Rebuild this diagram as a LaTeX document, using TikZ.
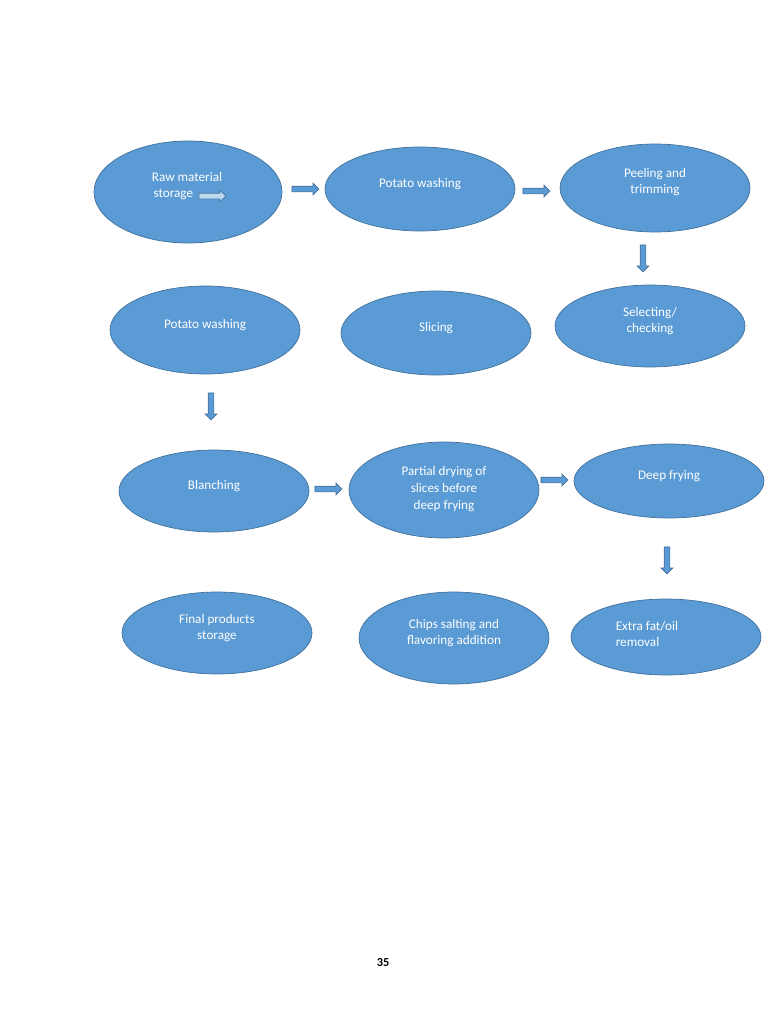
\documentclass[tikz,border=0pt]{standalone}
\usepackage{fontspec}
\setmainfont{Carlito}
\usetikzlibrary{shapes.arrows,shapes.geometric}
\definecolor{stagefill}{HTML}{5B9BD5}
\definecolor{stageline}{HTML}{41719C}
\begin{document}
\begin{tikzpicture}[x=0.02cm, y=-0.02cm,
  stage/.style={ellipse, draw=stageline, fill=stagefill, inner sep=0pt},
  lbl/.style={text=white, font=\fontsize{7.5}{9.5}\selectfont, align=center},
  blk/.style={single arrow, draw=stageline, fill=stagefill, minimum height=0.54cm, single arrow head extend=0.06cm, inner sep=0.05cm}]
  \useasboundingbox (0,0) rectangle (768,1024);
  \fill[white] (0,0) rectangle (768,1024);
  % process steps
  \node[stage, minimum width=3.76cm, minimum height=2.04cm] (raw) at (188,192) {};
  \node[stage, minimum width=3.8cm, minimum height=1.68cm] (wash) at (420,189) {};
  \node[stage, minimum width=3.8cm, minimum height=1.76cm] (peel) at (655,188) {};
  \node[stage, minimum width=3.8cm, minimum height=1.76cm] (washb) at (205,330) {};
  \node[stage, minimum width=3.8cm, minimum height=1.68cm] (slice) at (436,333) {};
  \node[stage, minimum width=3.8cm, minimum height=1.64cm] (select) at (650,326) {};
  \node[stage, minimum width=3.8cm, minimum height=1.64cm] (blanch) at (214,491) {};
  \node[stage, minimum width=3.8cm, minimum height=1.92cm] (dry) at (444,490) {};
  \node[stage, minimum width=3.8cm, minimum height=1.48cm] (fry) at (669,481) {};
  \node[stage, minimum width=3.8cm, minimum height=1.64cm] (final) at (217,633) {};
  \node[stage, minimum width=3.8cm, minimum height=1.84cm] (salt) at (454,638) {};
  \node[stage, minimum width=3.8cm, minimum height=1.52cm] (fat) at (666,637) {};
  % labels
  \node[lbl] (rawt) at (187,186) {Raw material\\storage\phantom{XXXX}};
  \node[lbl] (washt) at (420,184) {Potato washing};
  \node[lbl] (peelt) at (655,182) {Peeling and\\trimming};
  \node[lbl] (washbt) at (205,325) {Potato washing};
  \node[lbl] (slicet) at (436,328) {Slicing};
  \node[lbl] (selectt) at (650,321) {Selecting/\\checking};
  \node[lbl] (blancht) at (214,486) {Blanching};
  \node[lbl] (dryt) at (444,489) {Partial drying of\\slices before\\deep frying};
  \node[lbl] (fryt) at (669,476) {Deep frying};
  \node[lbl] (finalt) at (217,628) {Final products\\storage};
  \node[lbl] (saltt) at (454,633) {Chips salting and\\flavoring addition};
  \node[lbl, align=left] (fatt) at (647,634) {Extra fat/oil\\removal};
  % block arrows
  \node[blk] (a1) at (304,189) {};
  \node[blk, fill=stagefill!40] (a0) at (211,196) {};
  \node[blk] (a2) at (535,191) {};
  \node[blk] (a3) at (327,489) {};
  \node[blk] (a4) at (553,480) {};
  \node[blk, rotate=-90] (d1) at (643,257) {};
  \node[blk, rotate=-90] (d2) at (211,405) {};
  \node[blk, rotate=-90] (d3) at (667,559) {};
  \node[font=\fontsize{7}{8}\selectfont\bfseries] (page) at (383,962) {35};
\end{tikzpicture}
\end{document}
